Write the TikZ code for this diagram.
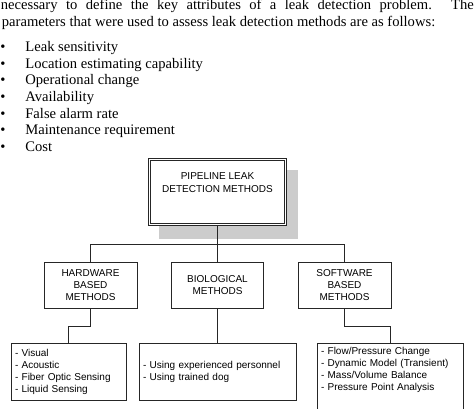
\documentclass[tikz,border=0pt]{standalone}
\usepackage{fontspec}
\setmainfont{Liberation Serif}
\setsansfont{Liberation Sans}

\tikzset{every picture/.style={line width=0.75pt}}
\tikzset{
  textline/.style={anchor=base west, inner sep=0pt, font=\fontsize{14.6}{17}\selectfont},
  titlebox/.style={draw=black!85, line width=0.6pt, double=white, double distance=1.6pt, fill=white, minimum width=136.2pt, minimum height=65.2pt, inner sep=0pt},
  titletext/.style={align=center, inner sep=0pt, font=\sffamily\fontsize{10}{13}\selectfont},
  methodbox/.style={draw=black!85, fill=white, align=center, inner sep=0pt, minimum height=46pt, font=\sffamily\fontsize{10}{12}\selectfont},
  listbox/.style={draw=black!85, fill=white, align=left, inner xsep=4pt, inner ysep=4pt, minimum height=57pt, font=\sffamily\fontsize{10}{12}\selectfont},
  link/.style={draw=black!85}
}

\begin{document}
\begin{tikzpicture}[x=1pt,y=1pt,yscale=-1,xscale=1]
        \useasboundingbox (0,0) rectangle (474,408);

        % Text Node
        \node[textline] (line1) at (0.5,9) {\makebox[473pt][s]{necessary to define the key attributes of a leak detection problem. The}};
        % Text Node
        \node[textline] (line2) at (1.5,26) {parameters that were used to assess leak detection methods are as follows:};
        % Text Node
        \node[textline] (item1) at (0,51.5) {\makebox[25pt][l]{\textbullet}Leak sensitivity};
        % Text Node
        \node[textline] (item2) at (0,68.2) {\makebox[25pt][l]{\textbullet}Location estimating capability};
        % Text Node
        \node[textline] (item3) at (0,84.8) {\makebox[25pt][l]{\textbullet}Operational change};
        % Text Node
        \node[textline] (item4) at (0,101.5) {\makebox[25pt][l]{\textbullet}Availability};
        % Text Node
        \node[textline] (item5) at (0,118.2) {\makebox[25pt][l]{\textbullet}False alarm rate};
        % Text Node
        \node[textline] (item6) at (0,134.8) {\makebox[25pt][l]{\textbullet}Maintenance requirement};
        % Text Node
        \node[textline] (item7) at (0,151.5) {\makebox[25pt][l]{\textbullet}Cost};

        % Shadow of the title box
        \fill[black!20] (159,170) rectangle (298,239);
        % Title box
        \node[titlebox] (top) at (217.5,192) {};
        \node[titletext] (title) at (217.5,183) {PIPELINE LEAK\\DETECTION METHODS};

        % Method boxes
        \node[methodbox, minimum width=93pt] (hw) at (90.5,285) {HARDWARE\\BASED\\METHODS};
        \node[methodbox, minimum width=92pt] (bio) at (217.5,285) {BIOLOGICAL\\METHODS};
        \node[methodbox, minimum width=93pt] (sw) at (344.5,285) {SOFTWARE\\BASED\\METHODS};

        % List boxes
        \node[listbox, text width=107pt] (hwlist) at (68.5,371.5) {- Visual\\- Acoustic\\- Fiber Optic Sensing\\- Liquid Sensing};
        \node[listbox, text width=149pt] (biolist) at (217.5,371.5) {- Using experienced personnel\\- Using trained dog};
        \node[draw=black!85, fill=white, minimum width=146pt, minimum height=70pt, inner sep=0pt, anchor=north] (swlist) at (390,343) {};
        \node[listbox, draw=none, fill=none, minimum height=0pt, text width=138pt, anchor=north west] (swtext) at (swlist.north west) {- Flow/Pressure Change\\- Dynamic Model (Transient)\\- Mass/Volume Balance\\- Pressure Point Analysis};

        % Connectors
        \draw[link] (top.south) -- (bio.north);
        \draw[link] (hw.north) -- ++(0,-17) -| (sw.north);
        \draw[link] (bio.south) -- (biolist.north);
        \draw[link] (hw.south) -- ++(0,18) -| (hwlist.north);
        \draw[link] (sw.south) -- ++(0,18) -| (swlist.north);

    \end{tikzpicture}
\end{document}
